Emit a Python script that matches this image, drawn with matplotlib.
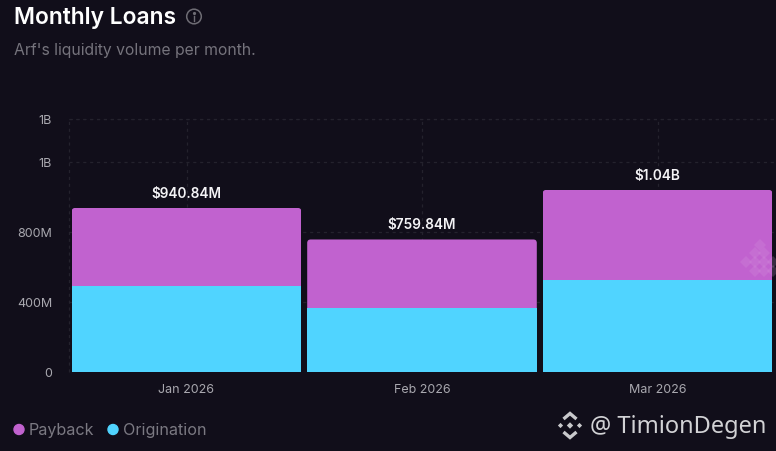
import matplotlib
matplotlib.use("Agg")
import matplotlib.pyplot as plt
from matplotlib.path import Path
from matplotlib.patches import Circle, Polygon
from matplotlib.transforms import IdentityTransform

categories = ["Jan 2026", "Feb 2026", "Mar 2026"]
origination = [490, 365, 524]
totals = [937, 757, 1040]
payback = [t - o for t, o in zip(totals, origination)]
total_labels = ["$940.84M", "$759.84M", "$1.04B"]
y_ticks = [0, 400, 800, 1200, 1448]
y_tick_labels = ["0", "400M", "800M", "1B", "1B"]

BG = "#110e1a"
PURPLE = "#c162cf"
BLUE = "#50d4ff"
W, H = 776, 452
FONT = ["Inter", "DejaVu Sans"]
plt.rcParams["font.family"] = FONT

fig = plt.figure(figsize=(W / 100, H / 100), dpi=100, facecolor=BG)
ax = fig.add_axes([68.75 / W, 1 - 373 / H, 706.5 / W, 253.5 / H], facecolor=BG)
ax.set_xlim(-0.5, 2.5)
ax.set_ylim(0, 1448)

x = range(len(categories))
ax.bar(x, origination, width=0.975, color=BLUE, zorder=3)
tops = ax.bar(x, payback, bottom=origination, width=0.975, color=PURPLE, zorder=3)


def top_rounded(bar, r=3.5):
    e = bar.get_window_extent()
    x0, x1, y0, y1 = e.x0, e.x1, e.y0, e.y1
    return Path(
        [(x0, y0), (x0, y1 - r), (x0, y1), (x0 + r, y1), (x1 - r, y1), (x1, y1),
         (x1, y1 - r), (x1, y0), (x0, y0)],
        [Path.MOVETO, Path.LINETO, Path.CURVE3, Path.CURVE3, Path.LINETO,
         Path.CURVE3, Path.CURVE3, Path.LINETO, Path.CLOSEPOLY],
    )


for b in tops:
    b.set_clip_path(top_rounded(b), IdentityTransform())

for i, (t, lab) in enumerate(zip(totals, total_labels)):
    ax.annotate(lab, (i, t), xytext=(0, 6), textcoords="offset points", ha="center",
                va="bottom", color="#f4f3f6", fontsize=9.8, fontweight="semibold", zorder=5)

ax.set_yticks(y_ticks, y_tick_labels)
ax.set_xticks(list(x), categories)
ax.tick_params(axis="both", length=0, labelsize=9, labelcolor="#a9a8af")
ax.tick_params(axis="y", pad=12)
ax.tick_params(axis="x", pad=8)
for s in ax.spines.values():
    s.set_visible(False)
GRID = dict(color="#24222d", linestyle=(0, (2.5, 3)), linewidth=0.9, zorder=0)
ax.grid(True, **GRID)
ax.axvline(-0.5, clip_on=False, **GRID)
ax.axhline(1448, clip_on=False, **GRID)


def ft(xp, yp, s, **kw):
    fig.text(xp / W, 1 - yp / H, s, **kw)


ft(14, 18, "Monthly Loans", color="#ffffff", fontsize=16.4, fontweight="semibold", va="center", ha="left")
ft(14, 51, "Arf's liquidity volume per month.", color="#75737c", fontsize=11.3, va="center", ha="left")

# overlay in pixel space: info icon, legend dots, watermark
ov = fig.add_axes([0, 0, 1, 1], facecolor="none", zorder=10)
ov.set_xlim(0, W)
ov.set_ylim(H, 0)
ov.axis("off")
ov.add_patch(Circle((194, 17.5), 7.3, fill=False, ec="#6e6c74", lw=1.1))
ov.plot([194, 194], [16.5, 21.5], color="#6e6c74", lw=1)
ov.plot([194], [13.5], "o", color="#6e6c74", ms=1.3)

ov.add_patch(Circle((19, 430.5), 5, color=PURPLE))
ov.add_patch(Circle((113, 430.5), 5, color=BLUE))
ov.text(29, 431, "Payback", color="#7b7982", fontsize=11.6, va="center", ha="left")
ov.text(123.5, 431, "Origination", color="#7b7982", fontsize=11.6, va="center", ha="left")


def diamond(cx, cy, r, color, alpha=1.0):
    ov.add_patch(Polygon([(cx - r, cy), (cx, cy - r), (cx + r, cy), (cx, cy + r)],
                         closed=True, color=color, alpha=alpha, lw=0))


LOGO = "#c9c9cc"
for cx, cy, r in [(570, 426.5, 3.2), (560.5, 426.5, 2.6), (579.5, 426.5, 2.6)]:
    diamond(cx, cy, r, LOGO)
ov.plot([563.5, 570, 576.5], [420, 414.5, 420], color=LOGO, lw=2.4, solid_joinstyle="miter", solid_capstyle="butt")
ov.plot([563.5, 570, 576.5], [433, 438.5, 433], color=LOGO, lw=2.4, solid_joinstyle="miter", solid_capstyle="butt")
ft(590, 427, "@ TimionDegen", color="#d2d2d5", fontsize=17, va="center", ha="left",
   family=["Noto Sans", "DejaVu Sans"], zorder=20)

for cx, cy in [(755, 263), (746, 263), (764, 263), (755, 254), (764, 254), (760, 246), (755, 272), (764, 272), (773, 263), (773, 272)]:
    diamond(cx, cy, 6, "#d9a0e0", 0.2)

fig.savefig("out.png", dpi=100, facecolor=BG)
